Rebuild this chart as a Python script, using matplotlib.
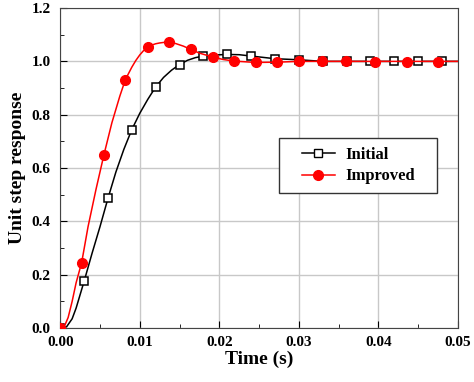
import matplotlib.pyplot as plt
from matplotlib.lines import Line2D
from matplotlib.patches import Rectangle
from matplotlib.ticker import MultipleLocator

plt.rcParams['font.family'] = ['Liberation Serif', 'DejaVu Serif']
plt.rcParams['font.weight'] = 'bold'

# markers
t_init = [0, 0.003, 0.006, 0.009, 0.012, 0.015, 0.018, 0.021, 0.024, 0.027,
          0.030, 0.033, 0.036, 0.039, 0.042, 0.045, 0.048]
y_init = [0, 0.175, 0.486, 0.744, 0.904, 0.988, 1.02, 1.026, 1.022, 1.009,
          1.007, 1.0, 1.0, 1.0, 1.0, 1.0, 1.0]

t_impr = [0, 0.0027, 0.0055, 0.0082, 0.011, 0.0137, 0.0164, 0.0192, 0.0219,
          0.0246, 0.0273, 0.030, 0.0329, 0.0359, 0.0396, 0.0436, 0.0475]
y_impr = [0, 0.246, 0.65, 0.932, 1.053, 1.072, 1.045, 1.016, 1.0,
          0.996, 0.996, 1.0, 1.0, 1.0, 0.999, 0.999, 0.999]

# continuous curves
tc_init = [0, 0.0008, 0.0015, 0.002, 0.003, 0.004, 0.005, 0.006, 0.007, 0.008,
           0.009, 0.010, 0.011, 0.012, 0.013, 0.014, 0.015, 0.016, 0.017,
           0.018, 0.0195, 0.021, 0.0225, 0.024, 0.027, 0.030, 0.033, 0.05]
yc_init = [0, 0.005, 0.035, 0.075, 0.175, 0.28, 0.38, 0.486, 0.585, 0.67,
           0.744, 0.805, 0.857, 0.904, 0.94, 0.967, 0.988, 1.004, 1.014,
           1.02, 1.024, 1.026, 1.025, 1.02, 1.01, 1.006, 1.0, 1.0]

tc_impr = [0, 0.0005, 0.001, 0.0015, 0.002, 0.0027, 0.0035, 0.0045, 0.0055,
           0.0065, 0.0075, 0.0082, 0.009, 0.0095, 0.010, 0.0105, 0.011, 0.0115,
           0.012, 0.0125, 0.013, 0.0137, 0.0145, 0.0155, 0.0164, 0.0175,
           0.0192, 0.0205, 0.0219, 0.0246, 0.0273, 0.030, 0.05]
yc_impr = [0, 0.005, 0.04, 0.10, 0.17, 0.246, 0.38, 0.52, 0.65,
           0.77, 0.87, 0.932, 0.978, 1.003, 1.024, 1.041, 1.053, 1.061,
           1.066, 1.069, 1.071, 1.072, 1.067, 1.057, 1.045, 1.031,
           1.016, 1.007, 1.001, 0.996, 0.997, 1.0, 1.0]

fig = plt.figure(figsize=(4.74, 3.82), dpi=100)
ax = fig.add_axes([0.127, 0.141, 0.839, 0.838])

ax.plot(tc_init, yc_init, color='black', lw=1.1, zorder=3)
ax.plot(t_init, y_init, ls='none', marker='s', ms=6, mfc='white', mec='black', mew=1.1, zorder=4)
ax.plot(tc_impr, yc_impr, color='red', lw=1.1, zorder=5)
ax.plot(t_impr, y_impr, ls='none', marker='o', ms=7, mfc='red', mec='red', zorder=6)

ax.set_xlim(0, 0.05)
ax.set_ylim(0, 1.2)
ax.xaxis.set_major_locator(MultipleLocator(0.01))
ax.xaxis.set_minor_locator(MultipleLocator(0.005))
ax.yaxis.set_major_locator(MultipleLocator(0.2))
ax.yaxis.set_minor_locator(MultipleLocator(0.1))
ax.set_xticklabels([f'{v:.2f}' for v in ax.get_xticks()])
ax.set_yticklabels([f'{v:.1f}' for v in ax.get_yticks()])
ax.tick_params(which='both', direction='in', labelsize=11)
ax.tick_params(which='major', length=5)
ax.tick_params(which='minor', length=3)
ax.tick_params(axis='x', pad=6)
ax.tick_params(axis='y', pad=7)
ax.grid(True, which='major', color='#c8c8c8', lw=1)
ax.set_axisbelow(True)
for s in ax.spines.values():
    s.set_color('#444444')

ax.set_xlabel('Time (s)', fontsize=14, fontweight='bold', labelpad=1)
ax.set_ylabel('Unit step response', fontsize=14, fontweight='bold', labelpad=4)

# legend box drawn separately so its padding matches the reference
ax.add_patch(Rectangle((0.55, 0.422), 0.397, 0.172, transform=ax.transAxes,
                       facecolor='white', edgecolor='#333333', lw=1, zorder=7))
handles = [
    Line2D([], [], color='black', lw=1.1, marker='s', ms=6, mfc='white', mec='black'),
    Line2D([], [], color='red', lw=1.1, marker='o', ms=7, mfc='red', mec='red'),
]
leg = ax.legend(handles, ['Initial', 'Improved'], loc='center',
                bbox_to_anchor=(0.749, 0.508), fontsize=12, frameon=False,
                handlelength=2.0, handletextpad=0.6, labelspacing=0.35)
leg.set_zorder(8)

plt.savefig('out.png', dpi=100)
